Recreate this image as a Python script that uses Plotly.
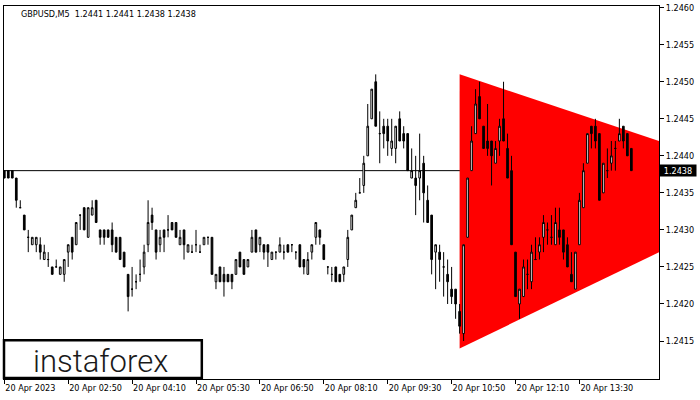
import plotly.graph_objects as go

# ---- data ----
bar_index = list(range(158))
opens = [1.2438, 1.2438, 1.2438, 1.2437, 1.2433, 1.2432, 1.2429, 1.2428, 1.2428, 1.2428,
         1.2426, 1.2426, 1.2425, 1.2425, 1.2424, 1.2424, 1.2427, 1.2429, 1.2428, 1.2432,
         1.2433, 1.2429, 1.2432, 1.2434, 1.2430, 1.2430, 1.2430, 1.2430, 1.2429, 1.2429,
         1.2427, 1.2424, 1.2422, 1.2423, 1.2424, 1.2425, 1.2428, 1.2432, 1.2430, 1.2428,
         1.2430, 1.2430, 1.2431, 1.2431, 1.2428, 1.2430, 1.2427, 1.2427, 1.2428, 1.2427,
         1.2428, 1.2429, 1.2429, 1.2423, 1.2425, 1.2424, 1.2424, 1.2424, 1.2424, 1.2427,
         1.2426, 1.2425, 1.2427, 1.2430, 1.2428, 1.2428, 1.2428, 1.2426, 1.2427, 1.2427,
         1.2427, 1.2428, 1.2428, 1.2427, 1.2428, 1.2426, 1.2424, 1.2427, 1.2429, 1.2430,
         1.2428, 1.2425, 1.2424, 1.2425, 1.2424, 1.2424, 1.2426, 1.2430, 1.2433, 1.2435,
         1.2436, 1.2440, 1.2445, 1.2450, 1.2443, 1.2444, 1.2444, 1.2441, 1.2441, 1.2445,
         1.2443, 1.2443, 1.2437, 1.2437, 1.2437, 1.2439, 1.2434, 1.2432, 1.2427, 1.2427,
         1.2425, 1.2424, 1.2422, 1.2422, 1.2419, 1.2416, 1.2429, 1.2438, 1.2443, 1.2448,
         1.2444, 1.2442, 1.2442, 1.2439, 1.2442, 1.2445, 1.2441, 1.2438, 1.2427, 1.2420,
         1.2421, 1.2424, 1.2423, 1.2426, 1.2427, 1.2429, 1.2430, 1.2429, 1.2428, 1.2430,
         1.2430, 1.2428, 1.2424, 1.2422, 1.2428, 1.2433, 1.2439, 1.2444, 1.2444, 1.2443,
         1.2435, 1.2438, 1.2439, 1.2441, 1.2442, 1.2444, 1.2443, 1.2441]
highs = [1.2438, 1.2438, 1.2438, 1.2437, 1.2434, 1.2432, 1.2430, 1.2429, 1.2429, 1.2429,
         1.2428, 1.2427, 1.2425, 1.2426, 1.2425, 1.2426, 1.2428, 1.2429, 1.2431, 1.2432,
         1.2433, 1.2433, 1.2434, 1.2434, 1.2430, 1.2430, 1.2430, 1.2431, 1.2429, 1.2429,
         1.2427, 1.2424, 1.2425, 1.2424, 1.2426, 1.2428, 1.2434, 1.2433, 1.2430, 1.2430,
         1.2430, 1.2432, 1.2431, 1.2431, 1.2430, 1.2430, 1.2428, 1.2428, 1.2430, 1.2428,
         1.2429, 1.2429, 1.2429, 1.2424, 1.2425, 1.2425, 1.2424, 1.2424, 1.2426, 1.2427,
         1.2426, 1.2426, 1.2430, 1.2430, 1.2429, 1.2428, 1.2428, 1.2427, 1.2427, 1.2429,
         1.2428, 1.2428, 1.2428, 1.2427, 1.2428, 1.2426, 1.2427, 1.2428, 1.2431, 1.2430,
         1.2428, 1.2425, 1.2425, 1.2425, 1.2424, 1.2425, 1.2430, 1.2432, 1.2435, 1.2437,
         1.2440, 1.2447, 1.2449, 1.2451, 1.2446, 1.2445, 1.2445, 1.2445, 1.2444, 1.2446,
         1.2444, 1.2443, 1.2441, 1.2440, 1.2443, 1.2440, 1.2436, 1.2432, 1.2428, 1.2428,
         1.2427, 1.2426, 1.2425, 1.2422, 1.2420, 1.2428, 1.2437, 1.2444, 1.2449, 1.2450,
         1.2444, 1.2447, 1.2442, 1.2442, 1.2445, 1.2450, 1.2443, 1.2440, 1.2427, 1.2422,
         1.2426, 1.2426, 1.2428, 1.2429, 1.2429, 1.2432, 1.2431, 1.2432, 1.2433, 1.2433,
         1.2430, 1.2429, 1.2427, 1.2427, 1.2435, 1.2439, 1.2443, 1.2444, 1.2445, 1.2443,
         1.2439, 1.2441, 1.2442, 1.2442, 1.2445, 1.2444, 1.2443, 1.2441]
lows = [1.2437, 1.2437, 1.2437, 1.2433, 1.2433, 1.2430, 1.2427, 1.2428, 1.2427, 1.2426,
        1.2426, 1.2425, 1.2424, 1.2425, 1.2424, 1.2423, 1.2425, 1.2426, 1.2428, 1.2430,
        1.2430, 1.2429, 1.2432, 1.2431, 1.2428, 1.2428, 1.2429, 1.2427, 1.2427, 1.2426,
        1.2425, 1.2419, 1.2421, 1.2422, 1.2423, 1.2424, 1.2427, 1.2430, 1.2426, 1.2427,
        1.2427, 1.2429, 1.2430, 1.2429, 1.2428, 1.2426, 1.2427, 1.2427, 1.2427, 1.2427,
        1.2428, 1.2428, 1.2424, 1.2422, 1.2423, 1.2421, 1.2423, 1.2422, 1.2424, 1.2425,
        1.2424, 1.2425, 1.2427, 1.2427, 1.2427, 1.2426, 1.2425, 1.2426, 1.2426, 1.2427,
        1.2426, 1.2427, 1.2427, 1.2426, 1.2425, 1.2424, 1.2424, 1.2426, 1.2428, 1.2428,
        1.2426, 1.2424, 1.2423, 1.2423, 1.2423, 1.2423, 1.2425, 1.2430, 1.2433, 1.2435,
        1.2435, 1.2440, 1.2445, 1.2444, 1.2439, 1.2441, 1.2440, 1.2440, 1.2439, 1.2442,
        1.2441, 1.2438, 1.2437, 1.2432, 1.2434, 1.2431, 1.2431, 1.2424, 1.2422, 1.2423,
        1.2421, 1.2420, 1.2420, 1.2418, 1.2416, 1.2415, 1.2429, 1.2438, 1.2443, 1.2445,
        1.2441, 1.2440, 1.2436, 1.2439, 1.2440, 1.2442, 1.2437, 1.2428, 1.2421, 1.2418,
        1.2421, 1.2422, 1.2422, 1.2426, 1.2426, 1.2427, 1.2428, 1.2428, 1.2428, 1.2428,
        1.2426, 1.2425, 1.2423, 1.2422, 1.2428, 1.2433, 1.2439, 1.2441, 1.2441, 1.2434,
        1.2435, 1.2437, 1.2438, 1.2438, 1.2442, 1.2441, 1.2440, 1.2438]
closes = [1.2437, 1.2437, 1.2437, 1.2434, 1.2433, 1.2430, 1.2429, 1.2429, 1.2429, 1.2427,
          1.2427, 1.2426, 1.2424, 1.2425, 1.2425, 1.2426, 1.2428, 1.2427, 1.2431, 1.2432,
          1.2430, 1.2433, 1.2433, 1.2431, 1.2429, 1.2429, 1.2429, 1.2428, 1.2427, 1.2426,
          1.2425, 1.2421, 1.2422, 1.2423, 1.2424, 1.2427, 1.2431, 1.2431, 1.2427, 1.2429,
          1.2429, 1.2430, 1.2430, 1.2429, 1.2429, 1.2428, 1.2428, 1.2427, 1.2428, 1.2427,
          1.2429, 1.2429, 1.2424, 1.2424, 1.2423, 1.2423, 1.2423, 1.2423, 1.2426, 1.2425,
          1.2424, 1.2426, 1.2429, 1.2427, 1.2429, 1.2427, 1.2427, 1.2427, 1.2427, 1.2428,
          1.2427, 1.2427, 1.2428, 1.2427, 1.2425, 1.2425, 1.2426, 1.2428, 1.2431, 1.2429,
          1.2426, 1.2425, 1.2424, 1.2423, 1.2423, 1.2425, 1.2429, 1.2432, 1.2434, 1.2435,
          1.2439, 1.2444, 1.2449, 1.2444, 1.2443, 1.2443, 1.2442, 1.2442, 1.2444, 1.2442,
          1.2442, 1.2438, 1.2438, 1.2436, 1.2438, 1.2435, 1.2431, 1.2426, 1.2428, 1.2426,
          1.2425, 1.2423, 1.2421, 1.2420, 1.2417, 1.2428, 1.2437, 1.2442, 1.2447, 1.2445,
          1.2441, 1.2441, 1.2440, 1.2441, 1.2444, 1.2442, 1.2437, 1.2428, 1.2421, 1.2422,
          1.2425, 1.2424, 1.2427, 1.2426, 1.2428, 1.2431, 1.2430, 1.2429, 1.2431, 1.2429,
          1.2427, 1.2425, 1.2423, 1.2427, 1.2434, 1.2438, 1.2443, 1.2443, 1.2442, 1.2434,
          1.2439, 1.2438, 1.2440, 1.2441, 1.2443, 1.2442, 1.2440, 1.2438]

time_tick_bars = [0, 16, 32, 48, 64, 80, 96, 112, 128, 144]
time_tick_labels = ["20 Apr 2023", "20 Apr 02:50", "20 Apr 04:10", "20 Apr 05:30",
                    "20 Apr 06:50", "20 Apr 08:10", "20 Apr 09:30", "20 Apr 10:50",
                    "20 Apr 12:10", "20 Apr 13:30"]
price_ticks = [1.2415, 1.2420, 1.2425, 1.2430, 1.2435, 1.2440, 1.2445, 1.2450, 1.2455, 1.2460]
price_tick_labels = ["1.2415", "1.2420", "1.2425", "1.2430", "1.2435",
                     "1.2440", "1.2445", "1.2450", "1.2455", "1.2460"]

# triangle pattern (start bar, end bar) with upper and lower boundary prices
pattern_bars = [114, 164]
pattern_upper = [1.2451, 1.2442]
pattern_lower = [1.2414, 1.2427]

last_price = 1.2438
title_text = "GBPUSD,M5  1.2441 1.2441 1.2438 1.2438"
logo_text = "instaforex"

AXIS_FONT = dict(family="DejaVu Sans Condensed, Liberation Sans, sans-serif", size=9, color="black")

fig = go.Figure()
fig.add_trace(go.Candlestick(
    x=bar_index, open=opens, high=highs, low=lows, close=closes,
    increasing=dict(line=dict(color="black", width=1), fillcolor="white"),
    decreasing=dict(line=dict(color="black", width=1), fillcolor="black"),
    whiskerwidth=0, hoverinfo="skip", showlegend=False,
))

tri_path = (f"M {pattern_bars[0]},{pattern_upper[0]} L {pattern_bars[1]},{pattern_upper[1]} "
            f"L {pattern_bars[1]},{pattern_lower[1]} L {pattern_bars[0]},{pattern_lower[0]} Z")

shapes = [
    dict(type="path", path=tri_path, xref="x", yref="y", fillcolor="#FF0000",
         line=dict(width=0), layer="below"),
    dict(type="line", xref="paper", x0=0, x1=1, yref="y", y0=last_price, y1=last_price,
         line=dict(color="black", width=1), layer="below"),
    dict(type="rect", xref="paper", yref="paper", x0=0.0, x1=0.302, y0=0.003, y1=0.104,
         fillcolor="white", line=dict(color="black", width=2.5), layer="above"),
]

annotations = [
    dict(text=title_text, xref="paper", yref="paper", x=0.0229, y=0.9787,
         xanchor="left", yanchor="middle", showarrow=False, font=AXIS_FONT),
    dict(text=logo_text, xref="paper", yref="paper", x=0.148, y=0.048,
         xanchor="center", yanchor="middle", showarrow=False,
         font=dict(family="Roboto", size=31, color="#1a1a1a", weight=300)),
    dict(text=f"{last_price:.4f}", xref="paper", yref="y", x=1, y=last_price,
         xanchor="left", yanchor="middle", showarrow=False, bgcolor="black",
         width=36, height=11, borderpad=0,
         font=dict(family=AXIS_FONT["family"], size=9, color="white")),
]

fig.update_layout(
    width=700, height=400,
    margin=dict(l=3, r=41, t=3, b=21),
    paper_bgcolor="white", plot_bgcolor="white",
    boxgap=0.4,
    shapes=shapes, annotations=annotations,
    showlegend=False,
)
fig.update_xaxes(
    range=[-0.075, 163.925], rangeslider=dict(visible=False),
    showgrid=False, zeroline=False,
    showline=True, mirror=True, linecolor="black", linewidth=1,
    ticks="outside", ticklen=4, tickcolor="black",
    tickvals=time_tick_bars, ticktext=time_tick_labels,
    ticklabelposition="outside right", tickfont=AXIS_FONT,
)
fig.update_yaxes(
    range=[1.2409873, 1.2460228], side="right",
    showgrid=False, zeroline=False,
    showline=True, mirror=True, linecolor="black", linewidth=1,
    ticks="outside", ticklen=4, tickcolor="black",
    tickvals=price_ticks, ticktext=price_tick_labels, tickfont=AXIS_FONT,
    ticklabeloverflow="allow",
)

fig.write_html("out.html", config={"displayModeBar": False},
               post_script="document.body.style.margin='0px';")
